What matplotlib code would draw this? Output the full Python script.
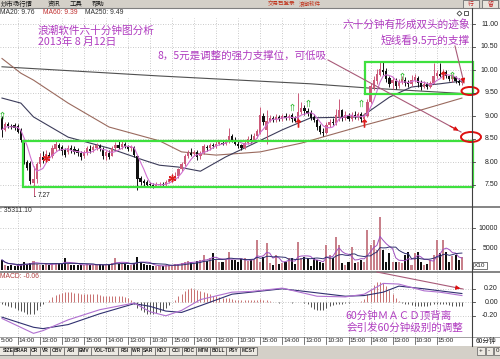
import matplotlib
matplotlib.use('Agg')
import matplotlib.pyplot as plt
import numpy as np
import pandas as pd
from matplotlib.patches import Rectangle, Ellipse

plt.rcParams['font.family'] = ['Liberation Sans', 'DejaVu Sans']
CJK = ['Noto Sans CJK SC', 'DejaVu Sans']

# ---------------- data (60-minute bars) ----------------
opens = [8.95, 8.70, 8.82, 8.78, 8.80, 8.78, 8.70, 8.42, 8.00, 7.98,
         7.55, 7.62, 7.95, 8.10, 8.05, 8.15, 8.12, 8.28, 8.38, 8.32,
         8.26, 8.22, 8.30, 8.28, 8.25, 8.20, 8.12, 8.20, 8.28, 8.26,
         8.30, 8.34, 8.28, 8.14, 8.20, 8.14, 8.30, 8.36, 8.32, 8.40,
         8.34, 8.30, 8.32, 8.14, 7.66, 7.58, 7.56, 7.52, 7.50, 7.48,
         7.50, 7.52, 7.50, 7.56, 7.62, 7.68, 7.70, 7.84, 7.96, 8.12,
         8.20, 8.18, 8.22, 8.12, 8.20, 8.32, 8.30, 8.36, 8.34, 8.40,
         8.42, 8.40, 8.46, 8.56, 8.48, 8.40, 8.36, 8.30, 8.42, 8.50,
         8.46, 8.56, 8.62, 9.00, 8.70, 8.90, 8.96, 8.92, 8.98, 8.94,
         9.00, 8.96, 9.02, 8.96, 8.92, 9.08, 9.18, 9.10, 9.06, 8.98,
         8.92, 8.78, 8.66, 8.64, 8.80, 8.86, 8.84, 8.98, 9.12, 8.96,
         9.00, 8.94, 9.02, 8.98, 9.04, 8.94, 9.00, 9.30, 9.60, 9.76,
         9.90, 10.00, 9.98, 9.82, 9.72, 9.76, 9.66, 9.74, 9.78, 9.72,
         9.70, 9.78, 9.82, 9.72, 9.64, 9.70, 9.64, 9.72, 9.86, 9.92,
         9.90, 9.96, 9.86, 9.80, 9.84, 9.76, 9.72]
highs = [9.00, 8.86, 8.86, 8.82, 8.84, 8.82, 8.74, 8.44, 8.05, 8.02,
         7.92, 8.00, 8.20, 8.24, 8.26, 8.22, 8.36, 8.48, 8.42, 8.36,
         8.30, 8.36, 8.38, 8.34, 8.30, 8.24, 8.26, 8.34, 8.36, 8.38,
         8.42, 8.40, 8.32, 8.26, 8.26, 8.34, 8.44, 8.46, 8.48, 8.44,
         8.38, 8.36, 8.34, 8.16, 7.70, 7.64, 7.60, 7.56, 7.54, 7.56,
         7.56, 7.56, 7.60, 7.66, 7.74, 7.78, 7.88, 8.00, 8.18, 8.26,
         8.30, 8.26, 8.26, 8.24, 8.40, 8.38, 8.42, 8.42, 8.46, 8.48,
         8.48, 8.50, 8.74, 8.60, 8.54, 8.46, 8.40, 8.46, 8.56, 8.60,
         8.64, 8.72, 9.20, 9.06, 9.12, 9.02, 9.00, 9.04, 9.02, 9.04,
         9.06, 9.04, 9.06, 9.00, 9.50, 9.30, 9.24, 9.18, 9.12, 9.04,
         8.96, 8.82, 8.74, 8.86, 8.94, 8.96, 9.16, 9.36, 9.16, 9.10,
         9.06, 9.08, 9.10, 9.08, 9.08, 9.06, 9.36, 9.72, 9.86, 10.02,
         10.18, 10.17, 10.04, 9.88, 9.84, 9.82, 9.80, 9.86, 9.84, 9.78,
         9.90, 9.92, 9.86, 9.78, 9.76, 9.74, 9.76, 10.16, 10.00, 10.16,
         10.02, 10.00, 9.90, 9.92, 9.88, 9.82, 9.78]
lows = [8.55, 8.68, 8.74, 8.72, 8.70, 8.62, 8.44, 7.95, 7.82, 7.52,
        7.27, 7.55, 7.90, 7.98, 8.02, 8.05, 8.08, 8.24, 8.26, 8.16,
        8.10, 8.18, 8.20, 8.18, 8.12, 8.05, 8.08, 8.16, 8.20, 8.22,
        8.26, 8.24, 8.06, 8.04, 8.06, 8.12, 8.26, 8.28, 8.28, 8.30,
        8.24, 8.24, 8.10, 7.40, 7.50, 7.48, 7.45, 7.45, 7.44, 7.45,
        7.46, 7.46, 7.47, 7.54, 7.58, 7.62, 7.66, 7.80, 7.92, 8.08,
        8.12, 8.14, 8.04, 8.06, 8.18, 8.24, 8.26, 8.30, 8.30, 8.36,
        8.36, 8.36, 8.42, 8.44, 8.36, 8.30, 8.26, 8.28, 8.40, 8.42,
        8.44, 8.52, 8.60, 8.80, 8.40, 8.86, 8.88, 8.88, 8.90, 8.90,
        8.92, 8.92, 8.88, 8.86, 8.90, 9.04, 9.02, 9.00, 8.92, 8.86,
        8.70, 8.60, 8.56, 8.60, 8.76, 8.80, 8.80, 8.90, 8.90, 8.92,
        8.90, 8.90, 8.94, 8.92, 8.86, 8.90, 8.98, 9.28, 9.56, 9.70,
        9.86, 9.90, 9.74, 9.62, 9.58, 9.58, 9.60, 9.70, 9.66, 9.62,
        9.66, 9.74, 9.64, 9.56, 9.60, 9.58, 9.60, 9.70, 9.82, 9.84,
        9.84, 9.82, 9.76, 9.74, 9.72, 9.68, 9.68]
closes = [8.70, 8.82, 8.78, 8.76, 8.74, 8.66, 8.48, 7.98, 7.88, 7.58,
          7.62, 7.95, 8.10, 8.05, 8.18, 8.10, 8.30, 8.40, 8.30, 8.24,
          8.15, 8.30, 8.26, 8.22, 8.20, 8.10, 8.22, 8.30, 8.24, 8.32,
          8.36, 8.28, 8.14, 8.22, 8.10, 8.30, 8.38, 8.30, 8.40, 8.34,
          8.28, 8.34, 8.16, 7.62, 7.56, 7.55, 7.50, 7.50, 7.48, 7.52,
          7.52, 7.50, 7.56, 7.62, 7.68, 7.70, 7.84, 7.96, 8.12, 8.20,
          8.16, 8.22, 8.10, 8.20, 8.34, 8.30, 8.38, 8.34, 8.40, 8.44,
          8.40, 8.46, 8.56, 8.48, 8.40, 8.34, 8.30, 8.42, 8.50, 8.46,
          8.56, 8.68, 9.02, 8.86, 8.90, 8.96, 8.92, 8.98, 8.94, 9.00,
          8.96, 9.00, 8.94, 8.90, 9.08, 9.18, 9.10, 9.04, 8.96, 8.92,
          8.76, 8.66, 8.62, 8.80, 8.88, 8.84, 9.02, 9.14, 8.96, 9.02,
          8.94, 9.02, 8.98, 9.04, 8.94, 9.00, 9.30, 9.66, 9.78, 9.92,
          10.02, 9.96, 9.80, 9.70, 9.78, 9.66, 9.74, 9.80, 9.72, 9.70,
          9.78, 9.84, 9.72, 9.62, 9.70, 9.64, 9.72, 9.86, 9.94, 9.88,
          9.96, 9.86, 9.80, 9.86, 9.76, 9.72, 9.74]
volumes = [2400, 1300, 1000, 1200, 900, 1100, 1400, 1800, 1500, 1600,
           2200, 1500, 1300, 1200, 1400, 1300, 1500, 1700, 1600, 1400,
           2900, 1500, 1300, 1200, 1100, 1300, 1200, 1400, 1300, 1200,
           1100, 1400, 1200, 1300, 1500, 1600, 2900, 1500, 1700, 1400,
           1300, 1200, 1600, 3100, 2000, 1400, 1300, 1100, 1000, 900,
           900, 1000, 1100, 1200, 1300, 1500, 1400, 1700, 1900, 2100,
           1800, 1600, 2200, 2500, 3600, 2200, 2800, 4000, 2500, 2000,
           1800, 2400, 4300, 2300, 2500, 1800, 2600, 2800, 2200, 2400,
           2400, 7100, 1900, 3100, 6400, 1600, 1200, 3600, 1500, 1700,
           1900, 2800, 2800, 1500, 6700, 2800, 3000, 2800, 900, 2800,
           2500, 2000, 1600, 6000, 3600, 2800, 7900, 6000, 1600, 1200,
           2000, 5500, 1600, 2000, 2400, 1800, 9500, 6000, 7100, 4800,
           12600, 4800, 1900, 4000, 1900, 1900, 1900, 1700, 3600, 4300,
           1200, 4000, 4300, 1800, 1200, 1500, 2500, 3600, 7100, 4000,
           7100, 4300, 1800, 3400, 3600, 2400, 3000]
macd_hist = [-0.03, -0.04, -0.05, -0.07, -0.09, -0.11, -0.13, -0.15, -0.17, -0.18,
             -0.17, -0.12, -0.06, -0.02, 0.01, 0.04, 0.08, 0.11, 0.13, 0.14,
             0.15, 0.15, 0.15, 0.14, 0.14, 0.13, 0.13, 0.12, 0.12, 0.13,
             0.12, 0.11, 0.10, 0.09, 0.09, 0.09, 0.10, 0.10, 0.09, 0.08,
             0.06, 0.04, -0.02, -0.08, -0.12, -0.15, -0.17, -0.18, -0.17, -0.16,
             -0.14, -0.11, -0.08, -0.04, 0.00, 0.04, 0.09, 0.13, 0.17, 0.20,
             0.21, 0.20, 0.18, 0.17, 0.16, 0.14, 0.12, 0.10, 0.09, 0.08,
             0.07, 0.06, 0.06, 0.05, 0.04, 0.03, 0.03, 0.03, 0.03, 0.03,
             0.03, 0.03, 0.05, 0.04, 0.03, 0.02, 0.01, 0.00, -0.01, 0.01,
             0.01, 0.00, -0.01, 0.00, 0.01, 0.00, -0.01, -0.03, -0.07, -0.10,
             -0.12, -0.12, -0.11, -0.09, -0.06, -0.04, -0.03, -0.02, -0.02, -0.01,
             -0.01, 0.00, 0.01, 0.01, 0.02, 0.05, 0.12, 0.20, 0.26, 0.30,
             0.30, 0.28, 0.24, 0.18, 0.12, 0.06, 0.02, -0.01, -0.02, -0.03,
             -0.04, -0.05, -0.05, -0.06, -0.06, -0.05, -0.04, -0.03, -0.02, -0.02,
             -0.03, -0.03, -0.04, -0.05, -0.06, -0.06, -0.06]

# moving averages (bar index, value)
ma20_idx = [0, 6, 10, 21, 34, 45, 50, 56, 63, 71, 79, 89, 98, 114, 123, 130, 139, 146]
ma20_val = [9.39, 9.28, 8.98, 8.54, 8.30, 8.04, 7.93, 7.89, 7.80, 8.11, 8.37, 8.70, 8.96, 8.98, 9.41, 9.63, 9.70, 9.76]
ma60_idx = [0, 6, 10, 21, 34, 50, 57, 68, 82, 95, 114, 133, 146]
ma60_val = [10.25, 9.93, 9.78, 9.28, 8.76, 8.46, 8.22, 8.15, 8.22, 8.41, 8.78, 9.13, 9.39]
ma250_idx = [0, 50, 98, 116, 146]
ma250_val = [10.07, 9.87, 9.70, 9.61, 9.49]

# MACD lines
macd_idx = [0, 10, 13, 21, 31, 42, 47, 52, 57, 63, 73, 79, 89, 100, 109, 115, 121, 126, 134, 139, 146]
dif_val = [-0.24, -0.46, -0.42, -0.26, -0.11, -0.01, -0.14, -0.20, -0.12, 0.04, 0.15, 0.16, 0.21, 0.09, 0.08, 0.12, 0.28, 0.27, 0.17, 0.15, 0.10]
dea_val = [-0.22, -0.37, -0.39, -0.33, -0.17, -0.02, -0.06, -0.13, -0.15, -0.05, 0.12, 0.15, 0.20, 0.14, 0.09, 0.10, 0.15, 0.24, 0.20, 0.17, 0.13]

# signal markers
sell_idx = [0, 92, 97, 114, 127, 143]
sell_price = [9.02, 9.20, 9.28, 9.28, 9.88, 9.90]
buy_idx = [94, 115, 140]
buy_price = [8.85, 8.85, 9.89]
star_idx = [14, 54]
star_price = [8.09, 7.65]

# axis ticks / labels
tick_idx = [-2, 5, 12, 19, 26, 33, 40, 47, 54, 61, 68, 75, 82, 89, 96, 103, 110, 117, 124, 131, 138]
tick_lbl = ['15:00', '14:00', '13:00', '10:30', '15:00', '14:00', '13:00', '10:30',
            '15:00', '14:00', '13:00', '10:30', '15:00', '14:00', '13:00', '10:30',
            '15:00', '14:00', '13:00', '10:30', '15:00']
price_ticks = [11.00, 10.50, 10.00, 9.50, 9.00, 8.50, 8.00, 7.50]
vol_ticks = [10000, 5000]
macd_ticks = [0.20, 0.00, -0.20]
tabs = ['SIZE', 'BRAR', 'CR', 'VR', 'OBV', 'ASI', 'EMV', 'VOL-TDX', 'RSI', 'WR',
        'SAR', 'KDJ', 'CCI', 'ROC', 'MTM', 'BOLL', 'PSY', 'MCST']
box_low = (7.46, 8.45)
box_high = (9.48, 10.17)
low_mark = 7.27

# ---------------- layout ----------------
W, H = 500, 359
fig = plt.figure(figsize=(5, 3.59), dpi=100)
fig.patch.set_facecolor('white')

def prect(x0, y0, x1, y1):
    return [x0 / W, 1 - y1 / H, (x1 - x0) / W, (y1 - y0) / H]

XOFF, XSTEP = 2.0, 3.15
PLOT_R = 472
def px2i(px):
    return (px - XOFF) / XSTEP
def i2px(i):
    return XOFF + XSTEP * i

axm = fig.add_axes(prect(0, 18, PLOT_R, 206))
axv = fig.add_axes(prect(0, 208, PLOT_R, 271))
axd = fig.add_axes(prect(0, 273, PLOT_R, 336))
for ax in (axm, axv, axd):
    ax.set_xlim(px2i(0), px2i(PLOT_R))
    ax.axis('off')
axm.set_ylim(11 - (206 - 24) / 46, 11 + (24 - 18) / 46)
axv.set_ylim(-(271 - 270) * 1000 / 4.2, (270 - 208) * 1000 / 4.2)
axd.set_ylim((302.3 - 336) / 67.5, (302.3 - 273) / 67.5)

GRID = dict(color='#b8b8b8', lw=0.6, linestyle=(0, (1, 2)), zorder=0)
for ax in (axm, axv, axd):
    for t in tick_idx:
        ax.axvline(t, **GRID)
for p in price_ticks:
    axm.axhline(p, **GRID)
for v in vol_ticks:
    axv.axhline(v, **GRID)
for v in macd_ticks:
    axd.axhline(v, **GRID)

idx = np.arange(len(closes))
o = np.array(opens); c = np.array(closes)
hi = np.array(highs); lo = np.array(lows)
up = c >= o
UP_C = '#cc5a7a'
DN_C = '#101010'
cols = np.where(up, UP_C, DN_C)

# moving averages
ma5 = pd.Series(closes).rolling(5, min_periods=1).mean()
axm.plot(ma250_idx, ma250_val, color='#505050', lw=0.8, zorder=2)
axm.plot(ma60_idx, ma60_val, color='#9a6a5e', lw=0.8, zorder=2)
axm.plot(ma20_idx, ma20_val, color='#3c3c5a', lw=0.8, zorder=2)

# candles
axm.vlines(idx, lo, hi, colors=cols, lw=0.7, zorder=3)
body = np.maximum(np.abs(c - o), 0.02)
axm.bar(idx, body, bottom=np.minimum(o, c), width=0.72, color=cols, linewidth=0, zorder=3)
axm.plot(idx, ma5, color='#d070d0', lw=0.8, zorder=4)

# signals
axm.scatter(sell_idx, sell_price, marker=r'$\Uparrow$', s=28, color='#3fbf3f', zorder=5, linewidths=0)
axm.scatter(buy_idx, buy_price, marker=r'$\uparrow$', s=30, color='#dd2020', zorder=5, linewidths=0.6)
axm.scatter(star_idx, star_price, marker=(6, 2, 0), s=22, color='#dd2020', zorder=5, linewidths=1.0)

# boxes
for (lo_p, hi_p), start in ((box_low, px2i(23)), (box_high, px2i(365))):
    axm.add_patch(Rectangle((start, lo_p), px2i(473) - start, hi_p - lo_p, fill=False,
                            ec='#3ee03e', lw=1.6, zorder=6, clip_on=False))

# low label
lo_i = int(np.argmin(lows))
axm.annotate('7.27', xy=(lo_i, low_mark), xytext=(lo_i + 1.3, low_mark - 0.005),
             fontsize=4.8, color='#202020', va='center', ha='left',
             arrowprops=dict(arrowstyle='-', color='#202020', lw=0.6,
                             connectionstyle='angle,angleA=0,angleB=90,rad=0'),
             annotation_clip=False)

# volume
vol_cols = np.where(up, '#c8808a', '#101010')
axv.bar(idx, volumes, width=0.65, color=vol_cols, linewidth=0, zorder=2)
vs = pd.Series(volumes)
axv.plot(idx, vs.rolling(5, min_periods=1).mean(), color='#a050c0', lw=0.7, zorder=3)
axv.plot(idx, vs.rolling(10, min_periods=1).mean(), color='#303070', lw=0.7, zorder=3)

# MACD
hist = np.array(macd_hist)
axd.vlines(idx, 0, hist, colors=np.where(hist >= 0, '#c87070', '#505050'), lw=0.7, zorder=2)
axd.plot(macd_idx, dea_val, color='#303070', lw=0.8, zorder=3)
axd.plot(macd_idx, dif_val, color='#b070d0', lw=0.8, zorder=3)

# ---------------- overlay (pixel coordinates) ----------------
ov = fig.add_axes([0, 0, 1, 1])
ov.set_xlim(0, W); ov.set_ylim(H, 0)
ov.axis('off'); ov.set_zorder(10); ov.patch.set_alpha(0)

# menu bar
ov.add_patch(Rectangle((0, 0), W, 8, fc='#d4d0c8', ec='none'))
ov.plot([0, W], [8, 8], color='#808080', lw=0.8)
for txt, x in (('炒市场行情', 0.5), ('资讯', 48), ('工具', 70), ('帮助', 92)):
    ov.text(x, 4.0, txt, fontsize=4.6, family=CJK, color='#101010', va='center', ha='left')
ov.text(268, 4.0, '交易已登录', fontsize=4.0, family=CJK, color='#c03018', va='center')
ov.text(299, 4.0, '浪潮软件', fontsize=4.0, family=CJK, color='#c03018', va='center')
for x0 in (463, 482):
    ov.add_patch(Rectangle((x0, 0), 16, 7.5, fc='#e8e4dc', ec='#707070', lw=0.6))
ov.text(471, 3.8, '行', fontsize=4.2, family=CJK, color='#c02020', ha='center', va='center')
ov.text(490, 3.8, '留', fontsize=4.2, family=CJK, color='#c02020', ha='center', va='center')

# MA title
ov.text(0.5, 13, 'MA20: 9.76', fontsize=4.9, color='#303030', va='center')
ov.text(43, 13, 'MA60: 9.39', fontsize=4.9, color='#c03030', va='center')
ov.text(85, 13, 'MA250: 9.49', fontsize=4.9, color='#303030', va='center')
ov.plot([459], [12.5], marker='D', ms=2.5, mfc='none', mec='#404040', mew=0.6)
ov.plot([466], [12.5], marker='s', ms=3.2, mfc='none', mec='#404040', mew=0.6)

# separators / right axis
for y in (207, 272):
    ov.plot([0, W], [y, y], color='#707070', lw=1.2)
ov.plot([0, W], [336.5, 336.5], color='#909090', lw=0.6)
ov.plot([PLOT_R, PLOT_R], [8, 346], color='#404040', lw=0.8)

def ylab(y, s):
    ov.plot([PLOT_R, PLOT_R + 3], [y, y], color='#404040', lw=0.6)
    ov.text(498, y, s, fontsize=5, color='#202020', ha='right', va='center')

for p in price_ticks:
    ylab(24 + (11 - p) * 46, f'{p:.2f}')
for v in vol_ticks:
    ylab(270 - v * 4.2 / 1000, f'{v:d}')
for v in macd_ticks:
    ylab(302.3 - v * 67.5, f'{v:.2f}')
ov.text(480, 265.5, 'X10', fontsize=4.6, color='#202020', ha='center', va='center',
        bbox=dict(boxstyle='square,pad=0.15', fc='white', ec='#404040', lw=0.5))

# panel labels
ov.text(0.5, 210.5, ': 35311.10', fontsize=4.9, color='#303030', va='center')
ov.text(0.5, 276, 'MACD: -0.06', fontsize=4.9, color='#b04040', va='center')

# time axis
for t, s in zip(tick_idx, tick_lbl):
    x = i2px(t)
    if x > 0:
        ov.plot([x, x], [337, 344], color='#404040', lw=0.5)
        ov.text(x + 1.2, 341, s, fontsize=4.6, color='#202020', va='center', ha='left')
    else:
        ov.text(0.3, 341, s[1:], fontsize=4.6, color='#202020', va='center', ha='left')
ov.text(476, 341, '60分钟', fontsize=4.8, family=CJK, color='#202020', va='center')

# tab bar
ov.add_patch(Rectangle((0, 346), W, 13, fc='#d4d0c8', ec='none'))
x = -4
for name in tabs:
    w = 3.2 * len(name) + 4
    ov.add_patch(Rectangle((x, 347), w, 8, fc='#ece9e2', ec='#606060', lw=0.5))
    ov.text(max(x + w / 2, 8), 351, name, fontsize=3.5, color='#202020', ha='center', va='center',
            fontweight='bold')
    x += w
for bx, s in ((477, '+'), (485.5, '-'), (494, '0')):
    ov.add_patch(Rectangle((bx, 347), 7.5, 8, fc='#ece9e2', ec='#606060', lw=0.5))
    ov.text(bx + 3.75, 351, s, fontsize=4.5, color='#202020', ha='center', va='center')

# annotations
PURP = '#b03cc0'
ov.text(38, 31, '浪潮软件六十分钟图分析', fontsize=7.7, family=CJK, color=PURP, va='center')
ov.text(38, 41.5, '2013年 8 月12日', fontsize=7.7, family=CJK, color=PURP, va='center')
ov.text(157, 56, '8，5元是调整的强力支撑位，可低吸', fontsize=7.6, family=CJK, color=PURP, va='center')
ov.text(470, 24, '六十分钟有形成双头的迹象', fontsize=7.7, family=CJK, color=PURP, va='center', ha='right')
ov.text(470, 40.5, '短线看9.5元的支撑', fontsize=7.7, family=CJK, color=PURP, va='center', ha='right')
ov.text(345, 316, '60分钟ＭＡＣＤ顶背离', fontsize=7.6, family=CJK, color=PURP, va='center')
ov.text(347, 327.5, '会引发60分钟级别的调整', fontsize=7.6, family=CJK, color=PURP, va='center')

LINE_C = '#a85a78'
def arrow(x0, y0, x1, y1):
    ov.plot([x0, x1], [y0, y1], color=LINE_C, lw=0.8)
    ov.annotate('', xy=(x1, y1), xytext=(x0 + (x1 - x0) * 0.9, y0 + (y1 - y0) * 0.9),
                arrowprops=dict(arrowstyle='-|>', color='#dd1010', lw=0.8, mutation_scale=6))

arrow(328, 60, 461, 132)
arrow(455, 46, 464, 83)
arrow(377, 272, 463, 289)

ov.add_patch(Ellipse((470, 91), 17, 8, fill=False, ec='#dd1010', lw=1.4))
ov.add_patch(Ellipse((471, 137), 20, 10, fill=False, ec='#dd1010', lw=1.4))

fig.savefig('out.png', dpi=100)
